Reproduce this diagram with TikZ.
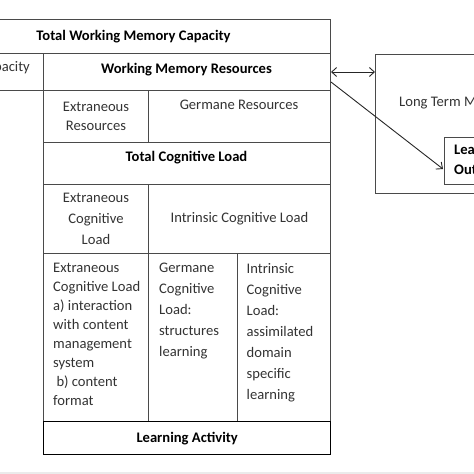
\documentclass[tikz,border=0pt]{standalone}
\usepackage{fontspec}
\setmainfont{Carlito}
\usepackage{tikz}
\usetikzlibrary{
  positioning,
  arrows.meta
}
\definecolor{boxgray}{HTML}{4A4A4A}
\definecolor{txtgray}{HTML}{333333}
\tikzset{
  x=1pt, y=-1pt,
  >={Straight Barb[length=5pt,width=9pt]},
  every node/.style={font=\fontsize{14.6}{19}\selectfont, text=txtgray, inner sep=0pt},
  cell/.style={draw=boxgray, line width=1pt, anchor=north west},
  head/.style={font=\fontsize{14.6}{19}\selectfont\bfseries, text=black},
  col/.style={anchor=north west, align=left}
}

\begin{document}
\begin{tikzpicture}
    \useasboundingbox (0,0) rectangle (474,474);
    \clip (0,0) rectangle (474,474);
    \fill[black!8] (0,472) rectangle (474,474);

    \node[cell, head, minimum width=394pt, minimum height=34pt] (twmc) at (-64,19) {Total Working Memory Capacity};
    \node[cell, minimum width=143pt, minimum height=37pt]       (cap)  at (-100,53) {};
    \node[anchor=east]                                           (capt) at (30,67.5) {Capacity};
    \node[cell, minimum width=287pt, minimum height=37pt]       (wmr)  at (43,53) {};
    \node[head]                                                  (wmrt) at (186.5,69.5) {Working Memory Resources};
    \node[cell, align=center, minimum width=105pt, minimum height=52pt] (exr) at (43,90) {Extraneous\\Resources};
    \node[cell, minimum width=182pt, minimum height=52pt]       (ger)  at (148,90) {};
    \node                                                        (gert) at (239,105) {Germane Resources};
    \node[cell, minimum width=287pt, minimum height=42pt]       (tcl)  at (43,142) {};
    \node[head]                                                  (tclt) at (186.5,158) {Total Cognitive Load};
    \node[cell, align=center, font=\fontsize{14.6}{21}\selectfont, minimum width=105pt, minimum height=69pt] (ecl) at (43,184) {Extraneous\\Cognitive\\Load};
    \node[cell, minimum width=182pt, minimum height=69pt]       (icl)  at (148,184) {Intrinsic Cognitive Load};

    \node[cell, minimum width=105pt, minimum height=168pt]      (eclb) at (43,253) {};
    \node[cell, minimum width=89pt, minimum height=168pt]       (gclb) at (148,253) {};
    \node[cell, minimum width=93pt, minimum height=168pt]       (iclb) at (237,253) {};
    \node[col]                                                   (eclt) at (53,263) {Extraneous\\Cognitive Load\\a) interaction\\with content\\management\\system\\\ b) content\\format};
    \node[col, font=\fontsize{14.6}{21}\selectfont]              (gclt) at (159,263) {Germane\\Cognitive\\Load:\\structures\\learning};
    \node[col, font=\fontsize{14.6}{21}\selectfont]              (iclt) at (246.5,263) {Intrinsic\\Cognitive\\Load:\\assimilated\\domain\\specific\\learning};
    \node[cell, head, draw=black, line width=1.4pt, minimum width=287pt, minimum height=33pt] (la) at (43,421) {Learning Activity};

    \node[cell, minimum width=300pt, minimum height=139pt]      (ltm)  at (375,54) {};
    \node[anchor=west]                                           (ltmt) at (399,103) {Long Term Memory};
    \node[cell, minimum width=120pt, minimum height=47pt]       (lo)   at (444,137) {};
    \node[col, head, font=\fontsize{14.6}{20}\selectfont\bfseries] (lot) at (454,144) {Learning\\Outcome};

    \draw[<->, line width=0.9pt, black!85] (wmr.east) -- (wmr.east -| ltm.west);
    \draw[->, line width=0.9pt, black!85] ([yshift=-10pt]wmr.east) -- ([yshift=-8pt, xshift=-1pt]lo.west);
\end{tikzpicture}
\end{document}
